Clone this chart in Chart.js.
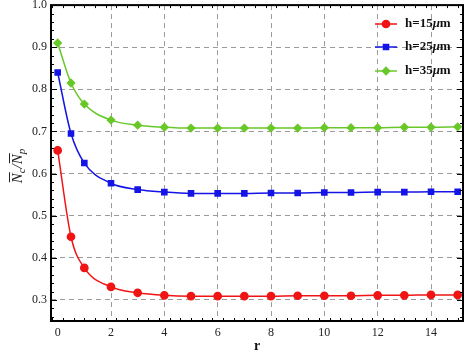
<!DOCTYPE html>
<html>
<head>
<meta charset="utf-8">
<script src="https://cdn.jsdelivr.net/npm/chart.js@4"></script>
<style>
  html, body { margin: 0; padding: 0; background: #fff; }
  #wrap { width: 474px; height: 362px; }
</style>
</head>
<body>
<div id="wrap"><canvas id="ratioChart" width="474" height="362"></canvas></div>
<script>
// r values and N_c/N_p ratios
const rValues = [0, 0.5, 1, 2, 3, 4, 5, 6, 7, 8, 9, 10, 11, 12, 13, 14, 15];
const h15 = [0.655, 0.450, 0.376, 0.331, 0.317, 0.311, 0.309, 0.309, 0.309, 0.309, 0.310, 0.310, 0.310, 0.311, 0.311, 0.312, 0.312];
const h25 = [0.840, 0.695, 0.625, 0.577, 0.562, 0.556, 0.553, 0.553, 0.553, 0.554, 0.554, 0.555, 0.555, 0.556, 0.556, 0.557, 0.557];
const h35 = [0.910, 0.815, 0.765, 0.727, 0.715, 0.710, 0.708, 0.708, 0.708, 0.708, 0.708, 0.709, 0.709, 0.709, 0.710, 0.710, 0.711];
const seriesLabels = ['h=15', 'h=25', 'h=35'];
const xTicks = [0, 2, 4, 6, 8, 10, 12, 14];
const yTicks = [0.3, 0.4, 0.5, 0.6, 0.7, 0.8, 0.9, 1.0];

const SERIF = '"Liberation Serif", "DejaVu Serif", serif';
const GRID = '#9a9a9a';

function toPoints(values) {
    return rValues.map((r, i) => ({ x: r, y: values[i] }));
}

function makeSet(label, values, color, style) {
    return {
        label: label,
        data: toPoints(values),
        borderColor: color,
        backgroundColor: color,
        borderWidth: 1.5,
        pointStyle: style,
        pointRadius: 3.6,
        pointHoverRadius: 3.6,
        cubicInterpolationMode: 'monotone'
    };
}

// frame, inward tick marks, legend and the y title
const framePlugin = {
    id: 'frame',
    afterDraw(chart) {
        const { ctx, chartArea: a, scales } = chart;
        const xs = scales.x, ys = scales.y;
        ctx.save();
        ctx.strokeStyle = '#000';
        ctx.lineWidth = 1;

        // minor + major ticks on all four sides
        ctx.beginPath();
        for (let v = -0.2; v <= 15.2; v += 0.4) {
            const px = Math.round(xs.getPixelForValue(v)) + 0.5;
            const major = Math.abs(v / 2 - Math.round(v / 2)) < 1e-6;
            const len = major ? 6 : 3;
            ctx.moveTo(px, a.bottom); ctx.lineTo(px, a.bottom - len);
            ctx.moveTo(px, a.top); ctx.lineTo(px, a.top + len);
        }
        for (let k = 13; k <= 50; k++) {
            const v = k * 0.02;
            const py = Math.round(ys.getPixelForValue(v)) + 0.5;
            const len = k % 5 === 0 ? 6 : 3;
            ctx.moveTo(a.left, py); ctx.lineTo(a.left + len, py);
            ctx.moveTo(a.right, py); ctx.lineTo(a.right - len, py);
        }
        ctx.stroke();

        ctx.lineWidth = 2;
        ctx.strokeRect(a.left, a.top, a.right - a.left, a.bottom - a.top);

        // legend
        const rows = [24, 47, 71];
        chart.data.datasets.forEach((ds, i) => {
            const y = rows[i];
            ctx.strokeStyle = ds.borderColor;
            ctx.lineWidth = 1.5;
            ctx.beginPath();
            ctx.moveTo(375, y); ctx.lineTo(397, y);
            ctx.stroke();
            ctx.fillStyle = ds.backgroundColor;
            Chart.helpers.drawPoint(ctx, { pointStyle: ds.pointStyle, radius: 3.6, borderWidth: 1 }, 386, y);
            ctx.fillStyle = '#111';
            ctx.textBaseline = 'middle';
            ctx.textAlign = 'left';
            let x = 405;
            ctx.font = 'bold 13px ' + SERIF;
            ctx.fillText(ds.label, x, y);
            x += ctx.measureText(ds.label).width;
            ctx.font = 'italic bold 13px ' + SERIF;
            ctx.fillText('\u03bc', x, y);
            x += ctx.measureText('\u03bc').width;
            ctx.font = 'bold 13px ' + SERIF;
            ctx.fillText('m', x, y);
        });

        // y title:  N̄c / N̄p
        ctx.translate(17, 166);
        ctx.rotate(-Math.PI / 2);
        ctx.fillStyle = '#222';
        ctx.strokeStyle = '#222';
        ctx.lineWidth = 1;
        ctx.textBaseline = 'alphabetic';
        const big = 'italic 15px ' + SERIF, small = 'italic 11px ' + SERIF;
        const parts = [['N', big, 0, true], ['c', small, 3, false], ['/', big, 0, false], ['N', big, 0, true], ['p', small, 3, false]];
        let total = 0;
        parts.forEach(p => { ctx.font = p[1]; total += ctx.measureText(p[0]).width; });
        let x = -total / 2;
        parts.forEach(p => {
            ctx.font = p[1];
            const w = ctx.measureText(p[0]).width;
            ctx.fillText(p[0], x, 5 + p[2]);
            if (p[3]) {
                ctx.beginPath();
                ctx.moveTo(x + 1, -7.5); ctx.lineTo(x + w + 1, -7.5);
                ctx.stroke();
            }
            x += w;
        });
        ctx.restore();
    }
};

const ctx = document.getElementById('ratioChart').getContext('2d');
const chart = new Chart(ctx, {
    type: 'line',
    data: {
        datasets: [
            makeSet(seriesLabels[0], h15, '#f01414', 'circle'),
            makeSet(seriesLabels[1], h25, '#1414e6', 'rect'),
            makeSet(seriesLabels[2], h35, '#68c828', 'rectRot')
        ]
    },
    options: {
        responsive: false,
        animation: false,
        layout: { padding: { top: 4, right: 11, left: 0, bottom: 0 } },
        plugins: {
            legend: { display: false },
            tooltip: { enabled: false }
        },
        scales: {
            x: {
                type: 'linear',
                min: -0.25,
                max: 15.2,
                afterBuildTicks: (s) => { s.ticks = xTicks.map(v => ({ value: v })); },
                afterFit: (s) => { s.height = 41; s.paddingLeft = 0; s.paddingRight = 0; },
                grid: {
                    drawTicks: false,
                    lineWidth: 1,
                    color: (c) => (c.tick && c.tick.value === 0) ? 'rgba(0,0,0,0)' : GRID
                },
                border: { display: false, dash: [5, 4] },
                ticks: {
                    padding: 5,
                    color: '#222',
                    maxRotation: 0,
                    font: { family: SERIF, size: 12 }
                },
                title: {
                    display: true,
                    text: 'r',
                    color: '#111',
                    padding: { top: 0, bottom: 7 },
                    font: { family: SERIF, size: 14, weight: 'bold' }
                }
            },
            y: {
                min: 0.25,
                max: 1.0,
                afterBuildTicks: (s) => { s.ticks = yTicks.map(v => ({ value: v })); },
                afterFit: (s) => { s.width = 51; s.paddingTop = 0; s.paddingBottom = 0; },
                grid: {
                    drawTicks: false,
                    lineWidth: 1,
                    color: (c) => (c.tick && c.tick.value >= 0.99) ? 'rgba(0,0,0,0)' : GRID
                },
                border: { display: false, dash: [5, 4] },
                ticks: {
                    padding: 4,
                    color: '#222',
                    font: { family: SERIF, size: 12 },
                    callback: (v) => Number(v).toFixed(1)
                }
            }
        }
    },
    plugins: [framePlugin]
});
</script>
</body>
</html>
